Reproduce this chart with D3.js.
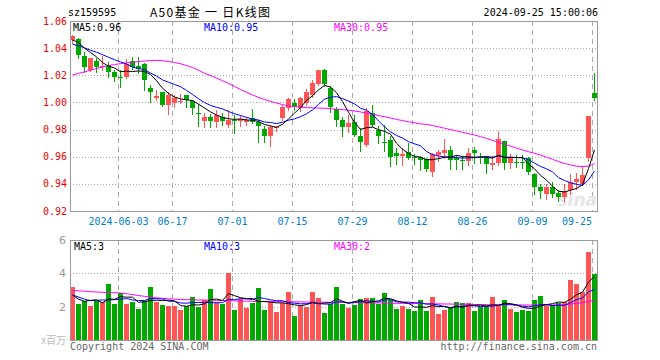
<!DOCTYPE html>
<html><head><meta charset="utf-8">
<script src="https://cdn.jsdelivr.net/npm/d3@7"></script>
<style>
body{margin:0;background:#fff}
svg{display:block}
text{font-family:"DejaVu Sans Mono",monospace;font-size:10px}
</style>
</head><body>
<svg id="chart" width="660" height="360"></svg>
<script>
const dates=["2024-05-22","2024-05-23","2024-05-24","2024-05-27","2024-05-28","2024-05-29","2024-05-30","2024-05-31",
"2024-06-03","2024-06-04","2024-06-05","2024-06-06","2024-06-07","2024-06-11","2024-06-12","2024-06-13","2024-06-14",
"2024-06-17","2024-06-18","2024-06-19","2024-06-20","2024-06-21","2024-06-24","2024-06-25","2024-06-26","2024-06-27","2024-06-28",
"2024-07-01","2024-07-02","2024-07-03","2024-07-04","2024-07-05","2024-07-08","2024-07-09","2024-07-10","2024-07-11","2024-07-12",
"2024-07-15","2024-07-16","2024-07-17","2024-07-18","2024-07-19","2024-07-22","2024-07-23","2024-07-24","2024-07-25","2024-07-26",
"2024-07-29","2024-07-30","2024-07-31","2024-08-01","2024-08-02","2024-08-05","2024-08-06","2024-08-07","2024-08-08","2024-08-09",
"2024-08-12","2024-08-13","2024-08-14","2024-08-15","2024-08-16","2024-08-19","2024-08-20","2024-08-21","2024-08-22","2024-08-23",
"2024-08-26","2024-08-27","2024-08-28","2024-08-29","2024-08-30","2024-09-02","2024-09-03","2024-09-04","2024-09-05","2024-09-06",
"2024-09-09","2024-09-10","2024-09-11","2024-09-12","2024-09-13","2024-09-18","2024-09-19","2024-09-20","2024-09-23","2024-09-24","2024-09-25"];

const open=[1.0461,1.0469,1.0339,1.0240,1.0307,1.0260,1.0265,1.0221,1.0187,1.0191,
1.0307,1.0270,1.0280,1.0108,1.0034,1.0079,0.9983,0.9999,1.0000,1.0052,
1.0010,0.9924,0.9863,0.9893,0.9854,0.9893,0.9834,0.9873,0.9863,0.9859,
0.9883,0.9859,0.9805,0.9749,0.9810,0.9888,0.9961,0.9998,0.9961,0.9993,
1.0054,1.0139,1.0237,1.0110,0.9949,0.9872,0.9818,0.9859,0.9755,0.9685,
0.9920,0.9794,0.9708,0.9726,0.9629,0.9605,0.9634,0.9599,0.9598,0.9581,
0.9491,0.9612,0.9624,0.9646,0.9593,0.9575,0.9568,0.9649,0.9598,0.9600,
0.9541,0.9551,0.9713,0.9551,0.9563,0.9563,0.9593,0.9475,0.9377,0.9326,
0.9377,0.9331,0.9304,0.9355,0.9414,0.9402,0.9593,1.0070];
const high=[1.0498,1.0472,1.0371,1.0330,1.0326,1.0339,1.0300,1.0240,1.0236,1.0319,
1.0334,1.0334,1.0290,1.0130,1.0093,1.0080,1.0074,1.0056,1.0060,1.0052,
1.0015,0.9990,0.9920,0.9915,0.9944,0.9920,0.9944,0.9907,0.9907,0.9895,
0.9949,0.9871,0.9829,0.9834,0.9827,0.9978,1.0030,1.0024,1.0037,1.0102,
1.0163,1.0241,1.0246,1.0120,0.9968,0.9896,0.9908,0.9908,0.9811,0.9956,
0.9980,0.9828,0.9835,0.9750,0.9665,0.9665,0.9702,0.9617,0.9605,0.9593,
0.9629,0.9648,0.9731,0.9682,0.9610,0.9605,0.9666,0.9671,0.9629,0.9605,
0.9605,0.9788,0.9713,0.9617,0.9612,0.9610,0.9598,0.9483,0.9397,0.9397,
0.9414,0.9355,0.9397,0.9470,0.9483,0.9531,0.9898,1.0217];
const low=[1.0437,1.0326,1.0221,1.0235,1.0221,1.0236,1.0191,1.0155,1.0113,1.0179,
1.0246,1.0216,1.0093,1.0002,1.0020,0.9975,0.9917,0.9966,0.9995,0.9970,
0.9917,0.9830,0.9822,0.9822,0.9822,0.9834,0.9822,0.9778,0.9827,0.9834,
0.9851,0.9712,0.9712,0.9676,0.9790,0.9871,0.9944,0.9944,0.9939,0.9980,
1.0041,1.0127,1.0120,0.9932,0.9828,0.9755,0.9779,0.9750,0.9641,0.9678,
0.9823,0.9702,0.9641,0.9532,0.9544,0.9537,0.9585,0.9544,0.9501,0.9496,
0.9455,0.9568,0.9593,0.9513,0.9513,0.9513,0.9536,0.9556,0.9556,0.9483,
0.9507,0.9536,0.9507,0.9517,0.9527,0.9519,0.9470,0.9324,0.9299,0.9292,
0.9304,0.9275,0.9275,0.9324,0.9360,0.9390,0.9568,1.0021];
const close=[1.0488,1.0351,1.0258,1.0324,1.0258,1.0272,1.0226,1.0191,1.0184,1.0280,
1.0258,1.0245,1.0167,1.0079,1.0049,0.9983,1.0056,1.0032,1.0010,1.0015,
0.9956,0.9921,0.9893,0.9863,0.9907,0.9863,0.9873,0.9868,0.9878,0.9873,
0.9854,0.9829,0.9756,0.9822,0.9822,0.9968,1.0024,0.9968,1.0034,1.0078,
1.0144,1.0237,1.0139,0.9968,0.9872,0.9816,0.9847,0.9762,0.9707,0.9939,
0.9835,0.9750,0.9706,0.9598,0.9605,0.9617,0.9593,0.9597,0.9573,0.9508,
0.9617,0.9634,0.9646,0.9576,0.9576,0.9573,0.9624,0.9627,0.9597,0.9549,
0.9554,0.9727,0.9551,0.9588,0.9551,0.9551,0.9487,0.9377,0.9348,0.9375,
0.9324,0.9304,0.9348,0.9414,0.9439,0.9465,0.9898,1.0033];
const volume=[3.19,2.17,2.33,2.05,2.33,2.29,3.37,2.17,2.83,2.17,
2.29,1.86,2.33,3.19,2.29,2.11,2.05,2.05,1.83,2.05,
2.59,1.99,2.41,3.07,2.23,2.17,4.03,1.81,2.47,1.93,
2.23,3.13,1.81,2.29,1.69,2.23,2.89,1.44,2.05,1.99,
2.89,2.53,1.62,2.17,3.18,2.16,1.92,2.10,2.46,2.52,
2.52,2.16,2.82,2.40,1.86,2.04,1.86,1.74,2.40,1.74,
2.58,1.56,1.80,1.92,2.28,2.22,2.22,1.74,1.98,2.04,
2.58,2.04,2.40,1.86,1.68,1.80,1.74,2.40,2.64,2.04,
2.10,2.22,2.28,3.60,3.36,2.88,5.28,3.96];

const ma5=[1.0460,1.0442,1.0400,1.0368,1.0336,1.0293,1.0268,1.0254,1.0226,1.0231,
1.0228,1.0232,1.0227,1.0206,1.0160,1.0105,1.0067,1.0040,1.0026,1.0019,
1.0014,0.9987,0.9959,0.9930,0.9908,0.9889,0.9880,0.9875,0.9878,0.9871,
0.9869,0.9860,0.9838,0.9827,0.9817,0.9839,0.9878,0.9921,0.9963,1.0014,
1.0050,1.0092,1.0126,1.0113,1.0072,1.0006,0.9928,0.9853,0.9801,0.9814,
0.9818,0.9799,0.9787,0.9766,0.9699,0.9655,0.9624,0.9602,0.9597,0.9578,
0.9578,0.9586,0.9596,0.9596,0.9610,0.9601,0.9599,0.9595,0.9599,0.9594,
0.9590,0.9611,0.9596,0.9594,0.9594,0.9594,0.9546,0.9511,0.9463,0.9428,
0.9382,0.9346,0.9340,0.9353,0.9366,0.9394,0.9513,0.9650];
const ma10=[1.0429,1.0417,1.0402,1.0385,1.0370,1.0352,1.0333,1.0315,1.0299,1.0283,
1.0260,1.0250,1.0241,1.0216,1.0195,1.0166,1.0149,1.0133,1.0116,1.0089,
1.0059,1.0027,0.9999,0.9978,0.9964,0.9952,0.9933,0.9917,0.9904,0.9890,
0.9879,0.9870,0.9856,0.9852,0.9844,0.9854,0.9869,0.9879,0.9895,0.9916,
0.9945,0.9985,1.0024,1.0038,1.0043,1.0028,1.0010,0.9990,0.9957,0.9943,
0.9912,0.9864,0.9820,0.9783,0.9757,0.9737,0.9711,0.9695,0.9681,0.9638,
0.9616,0.9605,0.9599,0.9597,0.9594,0.9589,0.9592,0.9595,0.9598,0.9602,
0.9596,0.9605,0.9595,0.9597,0.9594,0.9592,0.9578,0.9553,0.9528,0.9511,
0.9488,0.9446,0.9425,0.9408,0.9397,0.9388,0.9429,0.9495];
const ma30=[1.0203,1.0214,1.0225,1.0238,1.0250,1.0261,1.0272,1.0279,1.0286,1.0291,
1.0296,1.0301,1.0305,1.0308,1.0310,1.0307,1.0302,1.0294,1.0285,1.0272,
1.0258,1.0237,1.0215,1.0198,1.0180,1.0160,1.0140,1.0118,1.0095,1.0075,
1.0055,1.0038,1.0022,1.0008,0.9995,0.9984,0.9975,0.9970,0.9965,0.9962,
0.9960,0.9958,0.9957,0.9954,0.9950,0.9947,0.9943,0.9937,0.9930,0.9921,
0.9912,0.9903,0.9895,0.9885,0.9875,0.9866,0.9858,0.9850,0.9842,0.9838,
0.9830,0.9820,0.9810,0.9800,0.9790,0.9780,0.9770,0.9760,0.9748,0.9735,
0.9720,0.9706,0.9692,0.9678,0.9664,0.9650,0.9637,0.9625,0.9612,0.9597,
0.9580,0.9565,0.9550,0.9540,0.9530,0.9528,0.9530,0.9550];

const vma5=[2.70,2.45,2.32,2.38,2.41,2.23,2.47,2.44,2.60,2.57,
2.57,2.26,2.30,2.37,2.39,2.36,2.39,2.34,2.07,2.02,
2.11,2.10,2.17,2.42,2.46,2.37,2.78,2.66,2.54,2.48,
2.49,2.31,2.31,2.28,2.23,2.23,2.18,2.11,2.06,2.12,
2.25,2.18,2.22,2.24,2.48,2.33,2.21,2.31,2.36,2.23,
2.30,2.35,2.50,2.48,2.35,2.26,2.20,1.98,1.98,1.96,
2.06,2.00,2.02,1.92,2.03,1.96,2.09,2.08,2.09,2.04,
2.11,2.08,2.21,2.18,2.11,1.96,1.90,1.90,2.05,2.12,
2.18,2.28,2.26,2.45,2.71,2.87,3.48,3.82];
const vma10=[2.70,2.58,2.45,2.36,2.38,2.40,2.40,2.42,2.44,2.49,
2.40,2.37,2.37,2.48,2.48,2.46,2.33,2.32,2.22,2.21,
2.24,2.25,2.26,2.24,2.24,2.24,2.44,2.42,2.48,2.47,
2.43,2.55,2.49,2.41,2.36,2.36,2.25,2.21,2.17,2.18,
2.24,2.18,2.16,2.15,2.30,2.29,2.20,2.26,2.30,2.36,
2.32,2.28,2.40,2.42,2.29,2.28,2.27,2.24,2.23,2.15,
2.16,2.10,2.00,1.95,1.99,2.01,2.05,2.05,2.00,2.03,
2.03,2.08,2.14,2.14,2.08,2.03,1.99,2.05,2.12,2.12,
2.07,2.09,2.08,2.25,2.42,2.53,2.88,3.04];
const vma30=[2.97,2.95,2.93,2.90,2.88,2.86,2.85,2.84,2.82,2.78,
2.72,2.67,2.62,2.57,2.53,2.50,2.47,2.45,2.43,2.42,
2.41,2.40,2.40,2.39,2.38,2.37,2.36,2.35,2.34,2.33,
2.32,2.31,2.30,2.30,2.30,2.30,2.30,2.29,2.29,2.28,
2.28,2.27,2.27,2.26,2.26,2.25,2.25,2.24,2.24,2.23,
2.23,2.22,2.22,2.21,2.20,2.20,2.19,2.19,2.18,2.18,
2.17,2.17,2.16,2.16,2.15,2.14,2.14,2.13,2.13,2.12,
2.12,2.12,2.11,2.11,2.11,2.10,2.10,2.10,2.10,2.10,
2.10,2.10,2.11,2.15,2.20,2.24,2.32,2.38];

const priceTicks=[0.92,0.94,0.96,0.98,1.00,1.02,1.04,1.06];
const priceTickLabels=["0.92","0.94","0.96","0.98","1.00","1.02","1.04","1.06"];
const volTicks=[2,4,6];
const volTickLabels=["2","4","6"];
const xTickDates=["2024-06-03","2024-06-17","2024-07-01","2024-07-15","2024-07-29","2024-08-12","2024-08-26","2024-09-09","2024-09-25"];
const xTickLabels=["2024-06-03","06-17","07-01","07-15","07-29","08-12","08-26","09-09","09-25"];

const UP="#ff5555", DOWN="#00a800", GRID="#aaaaaa", FRAME="#999999";

const svg=d3.select("#chart");
const L=70, R=597, PT=21, PB=211, VT=240, VB=340;

const x=d3.scaleBand().domain(dates).range([L,R]).paddingInner(1/6).paddingOuter(0);
const yP=d3.scaleLinear().domain([0.92,1.06]).range([PB,PT]);
const yV=d3.scaleLinear().domain([0,6]).range([VB,VT]);
const cx=d=>x(d)+2.5;
const px=v=>Math.round(v)+0.5;

// grid
const g=svg.append("g");
[[PT,PB],[VT,VB]].forEach(([t,b])=>{
  g.selectAll(null).data(xTickDates).enter().append("line")
   .attr("x1",d=>x(d)+0.5).attr("x2",d=>x(d)+0.5).attr("y1",t).attr("y2",b)
   .attr("stroke",GRID).attr("stroke-dasharray","5,4");
});
g.selectAll(null).data(priceTicks.filter(v=>v>0.92&&v<1.06)).enter().append("line")
 .attr("x1",L).attr("x2",R+1).attr("y1",d=>px(yP(d))).attr("y2",d=>px(yP(d)))
 .attr("stroke",GRID).attr("stroke-dasharray","1,2");
g.selectAll(null).data(volTicks.filter(v=>v<6)).enter().append("line")
 .attr("x1",L).attr("x2",R+1).attr("y1",d=>px(yV(d))).attr("y2",d=>px(yV(d)))
 .attr("stroke",GRID).attr("stroke-dasharray","1,2");

// watermark
svg.append("text").attr("x",597).attr("y",206).attr("text-anchor","end")
 .style("font-family","DejaVu Sans").style("font-size","17px").style("font-style","italic").style("font-weight","bold")
 .attr("fill","#e6e6e6").text("sina");

// candles
const idx=d3.range(dates.length);
const cg=svg.append("g");
cg.selectAll("line.w").data(idx).enter().append("line")
 .attr("x1",i=>cx(dates[i])).attr("x2",i=>cx(dates[i]))
 .attr("y1",i=>Math.round(yP(high[i]))).attr("y2",i=>Math.round(yP(low[i]))+1)
 .attr("stroke",i=>close[i]>=open[i]?UP:DOWN);
cg.selectAll("rect").data(idx).enter().append("rect")
 .attr("x",i=>x(dates[i])).attr("width",x.bandwidth())
 .attr("y",i=>Math.round(yP(Math.max(open[i],close[i]))))
 .attr("height",i=>Math.max(1,Math.round(yP(Math.min(open[i],close[i])))-Math.round(yP(Math.max(open[i],close[i])))))
 .attr("fill",i=>close[i]>=open[i]?UP:DOWN)
 .attr("shape-rendering","crispEdges");

// volume bars
svg.append("g").selectAll("rect").data(idx).enter().append("rect")
 .attr("x",i=>x(dates[i])).attr("width",x.bandwidth())
 .attr("y",i=>Math.round(yV(volume[i]))).attr("height",i=>VB-Math.round(yV(volume[i])))
 .attr("fill",i=>close[i]>=open[i]?UP:DOWN).attr("shape-rendering","crispEdges");

// MA lines
function drawLine(arr,ys,color){
  const line=d3.line().x((v,i)=>cx(dates[i])).y(v=>ys(v));
  svg.append("path").datum(arr).attr("d",line).attr("fill","none").attr("stroke",color).attr("stroke-width",1);
}
drawLine(ma30,yP,"#ff00ff");
drawLine(ma10,yP,"#0000ff");
drawLine(ma5,yP,"#000000");
drawLine(vma30,yV,"#ff00ff");
drawLine(vma10,yV,"#0000ff");
drawLine(vma5,yV,"#000000");

// frames
[[PT,PB],[VT,VB]].forEach(([t,b])=>{
  svg.append("rect").attr("x",L+0.5).attr("y",t+0.5).attr("width",R-L).attr("height",b-t)
   .attr("fill","none").attr("stroke",FRAME);
});

// axis labels
svg.selectAll(null).data(priceTicks).enter().append("text")
 .attr("x",67).attr("y",d=>yP(d)+3.5).attr("text-anchor","end").attr("fill","#ee0000")
 .text((d,i)=>priceTickLabels[i]);
svg.selectAll(null).data(volTicks).enter().append("text")
 .attr("x",66).attr("y",d=>yV(d)+4).attr("text-anchor","end").attr("fill","#999999")
 .style("font-family","DejaVu Sans").style("font-size","11px")
 .text((d,i)=>volTickLabels[i]);
const lastTick=xTickDates.length-1;
svg.selectAll(null).data(xTickDates).enter().append("text")
 .attr("x",(d,i)=>i===lastTick?x(d):x(d)+0.5)
 .attr("y",225)
 .attr("text-anchor",(d,i)=>i===lastTick?"end":"middle")
 .attr("fill","#0080cc")
 .text((d,i)=>xTickLabels[i]);

// titles & legends
svg.append("text").attr("x",68).attr("y",16).attr("fill","#000").text("sz159595");
svg.append("text").attr("x",150).attr("y",17).attr("fill","#000")
 .attr("textLength",120).attr("lengthAdjust","spacing")
 .style("font-family","Noto Sans CJK SC").style("font-size","12px").text("A50基金 一 日K线图");
svg.append("text").attr("x",598).attr("y",16).attr("text-anchor","end").attr("fill","#000").text("2024-09-25 15:00:06");

const leg=[["MA5:0.96","#000",73],["MA10:0.95","#0000ff",204],["MA30:0.95","#ff00ff",334]];
leg.forEach(([t,c,xx])=>svg.append("text").attr("x",xx).attr("y",30.5).attr("fill",c).text(t));
const vleg=[["MA5:3","#000",74],["MA10:3","#0000ff",204],["MA30:2","#ff00ff",334]];
vleg.forEach(([t,c,xx])=>svg.append("text").attr("x",xx).attr("y",249.5).attr("fill",c).text(t));

svg.append("text").attr("x",66).attr("y",344).attr("text-anchor","end").attr("fill","#bbbbbb")
 .style("font-family","Noto Sans CJK SC").style("font-size","10px").text("x百万");
svg.append("text").attr("x",70).attr("y",350).attr("fill","#666666").text("Copyright 2024 SINA.COM");
svg.append("text").attr("x",597).attr("y",350).attr("text-anchor","end").attr("fill","#666666").text("http://finance.sina.com.cn");
</script>
</body></html>
